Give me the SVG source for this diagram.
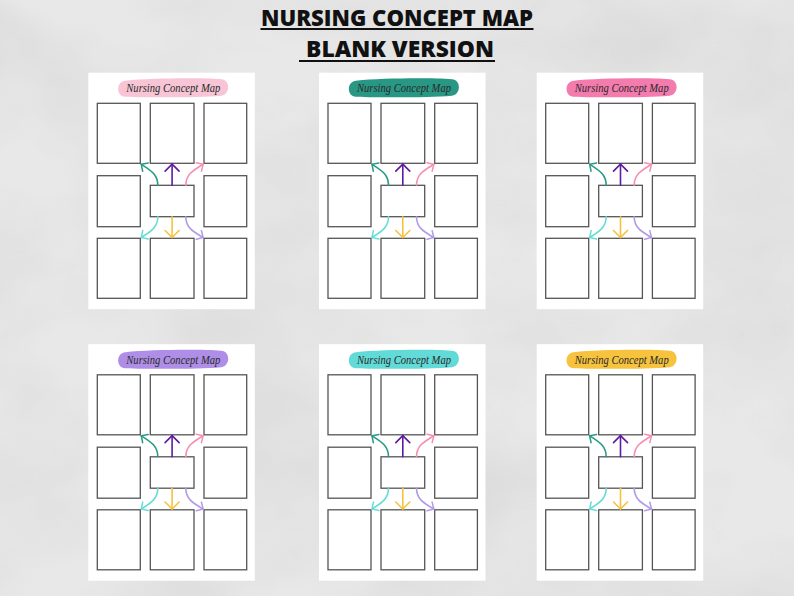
<svg xmlns="http://www.w3.org/2000/svg" xmlns:xlink="http://www.w3.org/1999/xlink" width="794" height="596" viewBox="0 0 794 596">
<style>
.bg{fill:#e8e8e8}
.page{fill:#ffffff}
.box{fill:#ffffff;stroke:#555555;stroke-width:1.3}
.arr{fill:none;stroke-width:1.6;stroke-linecap:round}
.ttl{font-family:"Open Sans","Liberation Sans",sans-serif;font-weight:800;font-size:22px;fill:#111111;text-anchor:middle}
.ul{stroke:#111111;stroke-width:2}
.hdr{font-family:"Liberation Serif","DejaVu Serif",serif;font-style:italic;font-size:12px;fill:#2a2a2a;text-anchor:middle}
</style>
<defs>
<filter id="marble" x="0" y="0" width="100%" height="100%">
<feTurbulence type="fractalNoise" baseFrequency="0.006 0.009" numOctaves="4" seed="7"/>
<feColorMatrix type="matrix" values="0 0 0 0 0.55  0 0 0 0 0.55  0 0 0 0 0.55  0 0 0 -1.6 1.1"/>
</filter>
<marker id="mPurple" viewBox="-9 -9 18 18" refX="0" refY="0" markerWidth="18" markerHeight="18" markerUnits="userSpaceOnUse" orient="auto"><path d="M-7,-7 L0,0 L-7,7" fill="none" stroke="#5f1aa0" stroke-width="1.6" stroke-linecap="round" stroke-linejoin="round"/></marker>
<marker id="mYellow" viewBox="-9 -9 18 18" refX="0" refY="0" markerWidth="18" markerHeight="18" markerUnits="userSpaceOnUse" orient="auto"><path d="M-7,-7 L0,0 L-7,7" fill="none" stroke="#f6c23e" stroke-width="1.6" stroke-linecap="round" stroke-linejoin="round"/></marker>
<marker id="mTeal" viewBox="-9 -9 18 18" refX="0" refY="0" markerWidth="18" markerHeight="18" markerUnits="userSpaceOnUse" orient="auto"><path d="M-5,-5 L0,0 L-5,5" fill="none" stroke="#2a9a84" stroke-width="1.5" stroke-linecap="round" stroke-linejoin="round"/></marker>
<marker id="mPink" viewBox="-9 -9 18 18" refX="0" refY="0" markerWidth="18" markerHeight="18" markerUnits="userSpaceOnUse" orient="auto"><path d="M-5,-5 L0,0 L-5,5" fill="none" stroke="#f58fb0" stroke-width="1.5" stroke-linecap="round" stroke-linejoin="round"/></marker>
<marker id="mCyan" viewBox="-9 -9 18 18" refX="0" refY="0" markerWidth="18" markerHeight="18" markerUnits="userSpaceOnUse" orient="auto"><path d="M-5,-5 L0,0 L-5,5" fill="none" stroke="#6adcd6" stroke-width="1.5" stroke-linecap="round" stroke-linejoin="round"/></marker>
<marker id="mLav" viewBox="-9 -9 18 18" refX="0" refY="0" markerWidth="18" markerHeight="18" markerUnits="userSpaceOnUse" orient="auto"><path d="M-5,-5 L0,0 L-5,5" fill="none" stroke="#b39be6" stroke-width="1.5" stroke-linecap="round" stroke-linejoin="round"/></marker>
<path id="blob" d="M37,8 C62,5.5 110,5 133,6.5 C142,7 142.5,21.5 133,23 C110,25 62,25 37,24 C27.5,23.5 27.5,9 37,8 Z"/>
<g id="boxes">
<rect class="box" x="9" y="30.6" width="43" height="60"/>
<rect class="box" x="62" y="30.6" width="43.7" height="60"/>
<rect class="box" x="115.7" y="30.6" width="42.7" height="60"/>
<rect class="box" x="9" y="103" width="43" height="51"/>
<rect class="box" x="62" y="112.6" width="43.7" height="31.4"/>
<rect class="box" x="115.7" y="103" width="42.7" height="51"/>
<rect class="box" x="9" y="165.6" width="43" height="60"/>
<rect class="box" x="62" y="165.6" width="43.7" height="60"/>
<rect class="box" x="115.7" y="165.6" width="42.7" height="60"/>
</g>
<g id="arrows">
<path class="arr" stroke="#5f1aa0" d="M83.8,112.6 L83.8,91.4" marker-end="url(#mPurple)"/>
<path class="arr" stroke="#f6c23e" d="M83.8,144 L83.8,164.8" marker-end="url(#mYellow)"/>
<path class="arr" stroke="#2a9a84" d="M69.5,112.6 C69.5,101 61,97 53,91.6" marker-end="url(#mTeal)"/>
<path class="arr" stroke="#f58fb0" d="M97.5,112.6 C97.5,101 106,97 114.8,91.6" marker-end="url(#mPink)"/>
<path class="arr" stroke="#6adcd6" d="M69.5,144 C69.5,155.5 61,159.5 53,164.8" marker-end="url(#mCyan)"/>
<path class="arr" stroke="#b39be6" d="M97.5,144 C97.5,155.5 106,159.5 114.8,164.8" marker-end="url(#mLav)"/>
</g>
</defs>
<rect class="bg" x="0" y="0" width="794" height="596"/>
<rect x="0" y="0" width="794" height="596" filter="url(#marble)" opacity="0.35"/>
<g id="title">
<text class="ttl" x="397" y="26" textLength="272" lengthAdjust="spacingAndGlyphs">NURSING CONCEPT MAP</text>
<line class="ul" x1="260.5" y1="29" x2="533.5" y2="29"/>
<text class="ttl" x="400" y="57" textLength="188" lengthAdjust="spacingAndGlyphs">BLANK VERSION</text>
<line class="ul" x1="299" y1="61" x2="495" y2="61"/>
</g>
<g id="page1" transform="translate(88.3,72.7)">
<rect class="page" width="166.5" height="236.5"/>
<use href="#blob" fill="#f7c5d5"/>
<text class="hdr" x="85" y="19.6" textLength="94" lengthAdjust="spacingAndGlyphs">Nursing Concept Map</text>
<use href="#boxes"/>
<g id="connectors1"><use href="#arrows"/></g>
</g>
<g id="page2" transform="translate(319,72.7)">
<rect class="page" width="166.5" height="236.5"/>
<use href="#blob" fill="#289784"/>
<text class="hdr" x="85" y="19.6" textLength="94" lengthAdjust="spacingAndGlyphs">Nursing Concept Map</text>
<use href="#boxes"/>
<g id="connectors2"><use href="#arrows"/></g>
</g>
<g id="page3" transform="translate(536.7,72.7)">
<rect class="page" width="166.5" height="236.5"/>
<use href="#blob" fill="#f47bae"/>
<text class="hdr" x="85" y="19.6" textLength="94" lengthAdjust="spacingAndGlyphs">Nursing Concept Map</text>
<use href="#boxes"/>
<g id="connectors3"><use href="#arrows"/></g>
</g>
<g id="page4" transform="translate(88.3,344.2)">
<rect class="page" width="166.5" height="236.5"/>
<use href="#blob" fill="#ae8ee6"/>
<text class="hdr" x="85" y="19.6" textLength="94" lengthAdjust="spacingAndGlyphs">Nursing Concept Map</text>
<use href="#boxes"/>
<g id="connectors4"><use href="#arrows"/></g>
</g>
<g id="page5" transform="translate(319,344.2)">
<rect class="page" width="166.5" height="236.5"/>
<use href="#blob" fill="#62dad7"/>
<text class="hdr" x="85" y="19.6" textLength="94" lengthAdjust="spacingAndGlyphs">Nursing Concept Map</text>
<use href="#boxes"/>
<g id="connectors5"><use href="#arrows"/></g>
</g>
<g id="page6" transform="translate(536.7,344.2)">
<rect class="page" width="166.5" height="236.5"/>
<use href="#blob" fill="#f7c23d"/>
<text class="hdr" x="85" y="19.6" textLength="94" lengthAdjust="spacingAndGlyphs">Nursing Concept Map</text>
<use href="#boxes"/>
<g id="connectors6"><use href="#arrows"/></g>
</g>
</svg>
